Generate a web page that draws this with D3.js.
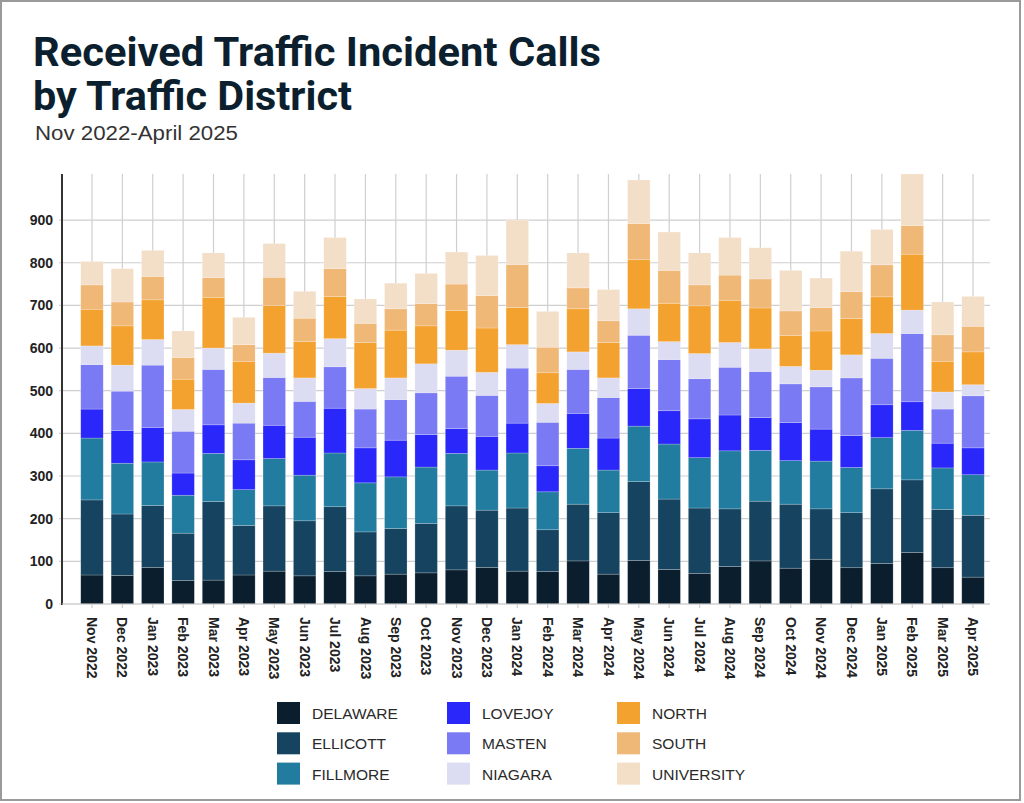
<!DOCTYPE html>
<html lang="en">
<head>
<meta charset="UTF-8">
<title>Received Traffic Incident Calls by Traffic District</title>
<script src="https://d3js.org/d3.v7.min.js"></script>
<style>
    body { margin: 0; background: #fff; }
    svg { display: block; }
    .title { font-family: "Liberation Sans Narrow", "Roboto", sans-serif; font-weight: 700; fill: #0c1f2e; }
    .subtitle { font-family: "Liberation Sans", Arial, sans-serif; fill: #333; }
    .axis text { font-family: "Liberation Sans", Arial, sans-serif; font-weight: 700; fill: #222; }
    .legend text { font-family: "Liberation Sans", Arial, sans-serif; fill: #2a2a2a; }
</style>
</head>
<body>
<svg id="chart" width="1024" height="803"></svg>
<script>
// months on the x axis
const months = ["Nov 2022","Dec 2022","Jan 2023","Feb 2023","Mar 2023","Apr 2023","May 2023","Jun 2023",
    "Jul 2023","Aug 2023","Sep 2023","Oct 2023","Nov 2023","Dec 2023","Jan 2024","Feb 2024","Mar 2024",
    "Apr 2024","May 2024","Jun 2024","Jul 2024","Aug 2024","Sep 2024","Oct 2024","Nov 2024","Dec 2024",
    "Jan 2025","Feb 2025","Mar 2025","Apr 2025"];

// calls per district, one value per month
const delaware   = [68,67,86,55,56,68,77,66,76,66,70,73,80,86,77,76,101,70,102,81,72,88,101,84,105,85,95,121,85,63];
const ellicott   = [176,144,145,111,184,116,153,129,152,103,107,116,150,134,148,98,133,144,185,165,153,135,140,150,118,129,175,170,137,145];
const fillmore   = [145,119,102,89,113,84,111,107,126,115,121,132,123,94,129,89,131,100,130,129,118,136,119,102,112,106,120,116,97,95];
const lovejoy    = [68,77,81,52,67,70,78,89,105,82,86,76,58,79,70,61,82,75,88,78,91,84,77,89,75,75,77,67,58,63];
const masten     = [104,92,146,98,130,86,112,84,97,91,95,98,123,96,129,102,103,95,125,120,94,112,108,91,99,135,109,160,80,122];
const niagara    = [44,61,60,51,50,47,57,55,66,48,51,68,61,54,55,44,41,46,62,42,59,58,53,41,39,54,58,55,40,26];
const north      = [86,92,93,71,119,98,112,85,99,108,112,89,93,104,87,72,101,83,115,90,112,99,96,72,92,85,86,131,72,77];
const south      = [57,56,55,51,46,39,66,55,65,45,50,52,62,76,101,60,49,51,85,77,49,59,68,58,55,63,75,67,62,60];
const university = [55,78,61,62,58,64,79,63,73,57,60,71,75,94,104,84,82,73,102,90,75,88,73,95,69,95,83,121,77,70];

const districts = ["DELAWARE","ELLICOTT","FILLMORE","LOVEJOY","MASTEN","NIAGARA","NORTH","SOUTH","UNIVERSITY"];
const series = [delaware, ellicott, fillmore, lovejoy, masten, niagara, north, south, university];
const colors = ["#0b1e2d","#16435f","#227ca0","#2a27fb","#7b7af5","#dcdcf2","#f4a22f","#f0b877","#f3dec8"];
const yTicks = [0,100,200,300,400,500,600,700,800,900];

// build rows for d3.stack
const rows = months.map((m, i) => {
    const r = { month: m };
    districts.forEach((d, j) => r[d] = series[j][i]);
    return r;
});

const svg = d3.select("#chart");

// frame
svg.append("rect")
    .attr("x", 1).attr("y", 1).attr("width", 1019).attr("height", 799)
    .attr("fill", "none").attr("stroke", "#9a9a9a").attr("stroke-width", 2);

// titles
svg.append("text").attr("class", "title").attr("x", 33).attr("y", 66)
    .style("font-size", "40px")
    .attr("textLength", 568).attr("lengthAdjust", "spacingAndGlyphs")
    .text("Received Traffic Incident Calls");
svg.append("text").attr("class", "title").attr("x", 33).attr("y", 110)
    .style("font-size", "40px")
    .attr("textLength", 319).attr("lengthAdjust", "spacingAndGlyphs")
    .text("by Traffic District");
svg.append("text").attr("class", "subtitle").attr("x", 35).attr("y", 140)
    .style("font-size", "20px").attr("textLength", 203).attr("lengthAdjust", "spacingAndGlyphs")
    .text("Nov 2022-April 2025");

// scales
const plotLeft = 62, plotRight = 990, plotTop = 174, plotBottom = 604;
const totals = rows.map(r => districts.reduce((s, d) => s + r[d], 0));

const x = d3.scaleBand()
    .domain(months)
    .range([76.8, 988.2])
    .paddingInner(0.26)
    .paddingOuter(0.13);

const y = d3.scaleLinear()
    .domain([0, d3.max(totals)])
    .range([plotBottom, plotTop]);

// grid
svg.append("g")
    .selectAll("line")
    .data(yTicks)
    .join("line")
    .attr("x1", plotLeft - 3).attr("x2", plotRight)
    .attr("y1", d => y(d)).attr("y2", d => y(d))
    .attr("stroke", "#cfcfcf").attr("stroke-width", 1.2);

svg.append("g")
    .selectAll("line")
    .data(months)
    .join("line")
    .attr("x1", d => x(d) + x.bandwidth() / 2).attr("x2", d => x(d) + x.bandwidth() / 2)
    .attr("y1", plotTop).attr("y2", plotBottom + 4)
    .attr("stroke", "#cfcfcf").attr("stroke-width", 1.2);

// stacked bars
const stacked = d3.stack().keys(districts)(rows);

svg.append("g")
    .selectAll("g")
    .data(stacked)
    .join("g")
    .attr("fill", (d, i) => colors[i])
    .selectAll("rect")
    .data(d => d)
    .join("rect")
    .attr("x", d => x(d.data.month))
    .attr("y", d => y(d[1]))
    .attr("width", x.bandwidth())
    .attr("height", d => y(d[0]) - y(d[1]))
    .attr("stroke", "#ffffff")
    .attr("stroke-opacity", 0.35)
    .attr("stroke-width", 0.6);

// y axis
const yAxis = svg.append("g")
    .attr("class", "axis")
    .attr("transform", `translate(${plotLeft},0)`)
    .call(d3.axisLeft(y).tickValues(yTicks).tickSize(0).tickPadding(9));
yAxis.select(".domain").remove();
yAxis.selectAll("text").style("font-size", "14px");
svg.append("line")
    .attr("x1", plotLeft).attr("x2", plotLeft)
    .attr("y1", plotTop).attr("y2", plotBottom + 1)
    .attr("stroke", "#333").attr("stroke-width", 2);

// x axis
const xAxis = svg.append("g")
    .attr("class", "axis")
    .attr("transform", `translate(0,${plotBottom})`)
    .call(d3.axisBottom(x).tickSize(0).tickPadding(0));
xAxis.select(".domain").attr("stroke", "#cfcfcf").attr("stroke-width", 1.2)
    .attr("d", `M${plotLeft},0H${plotRight}`);
xAxis.selectAll("text")
    .style("font-size", "14px")
    .attr("text-anchor", "start")
    .attr("dy", "0.35em")
    .attr("transform", "translate(0,13) rotate(90)")
    .attr("y", 0).attr("x", 0);

// legend
const legend = svg.append("g").attr("class", "legend");
districts.forEach((d, i) => {
    const col = Math.floor(i / 3), row = i % 3;
    const g = legend.append("g")
        .attr("transform", `translate(${277 + col * 170},${702 + row * 30.3})`);
    g.append("rect").attr("width", 23).attr("height", 22).attr("fill", colors[i]);
    g.append("text").attr("x", 35).attr("y", 17).style("font-size", "15.5px").text(d);
});
</script>
</body>
</html>
